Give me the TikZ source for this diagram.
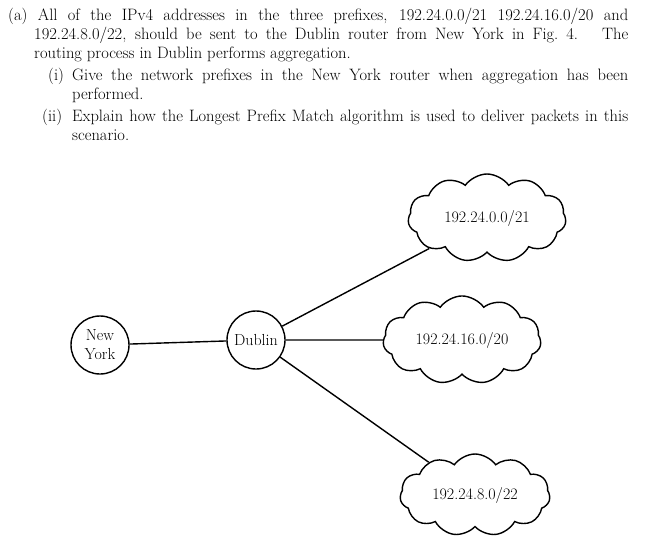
\documentclass[tikz,border=0pt]{standalone}
\usetikzlibrary{shapes.symbols}
\begin{document}
\begin{tikzpicture}[x=1pt,y=-1pt,
  router/.style={circle,draw,line width=1.4pt,minimum size=58pt,inner sep=1pt,font=\fontsize{16}{19}\selectfont,align=center},
  net/.style={cloud,draw,line width=1.4pt,cloud puffs=11,cloud puff arc=110,aspect=2,font=\fontsize{16}{19}\selectfont},
  link/.style={line width=1.4pt}]
\useasboundingbox (0,0) rectangle (664,547);
\node[anchor=north west,inner sep=0pt,text width=620pt,align=justify,font=\fontsize{16.5}{19}\selectfont] (txt) at (8,8) {%
\tolerance=9999\hbadness=10000\parskip=6pt
\hangindent=26pt\hangafter=1 (a) All of the IPv4 addresses in the three prefixes, 192.24.0.0/21 192.24.16.0/20 and\linebreak 192.24.8.0/22, should be sent to the Dublin router from New York in Fig.~4. \ The\linebreak routing process in Dublin performs aggregation.\par
\leftskip=64pt\parindent=-24pt\parskip=3pt
\makebox[24pt][l]{(i)}Give the network prefixes in the New York router when aggregation has been\linebreak performed.\par
\parindent=-30pt
\makebox[30pt][l]{(ii)}Explain how the Longest Prefix Match algorithm is used to deliver packets in this\linebreak scenario.\par};
\node[router] (ny) at (100,345) {New\\York};
\node[router] (du) at (256,340) {Dublin};
\node[net,minimum width=158pt,minimum height=88pt] (c1) at (487,218) {192.24.0.0/21};
\node[net,minimum width=158pt,minimum height=82pt] (c2) at (462,340) {192.24.16.0/20};
\node[net,minimum width=150pt,minimum height=82pt] (c3) at (475,495) {192.24.8.0/22};
\draw[link] (ny) -- (du);
\draw[link] (du) -- (c1);
\draw[link] (du) -- (c2);
\draw[link] (du) -- (c3);
\end{tikzpicture}
\end{document}
